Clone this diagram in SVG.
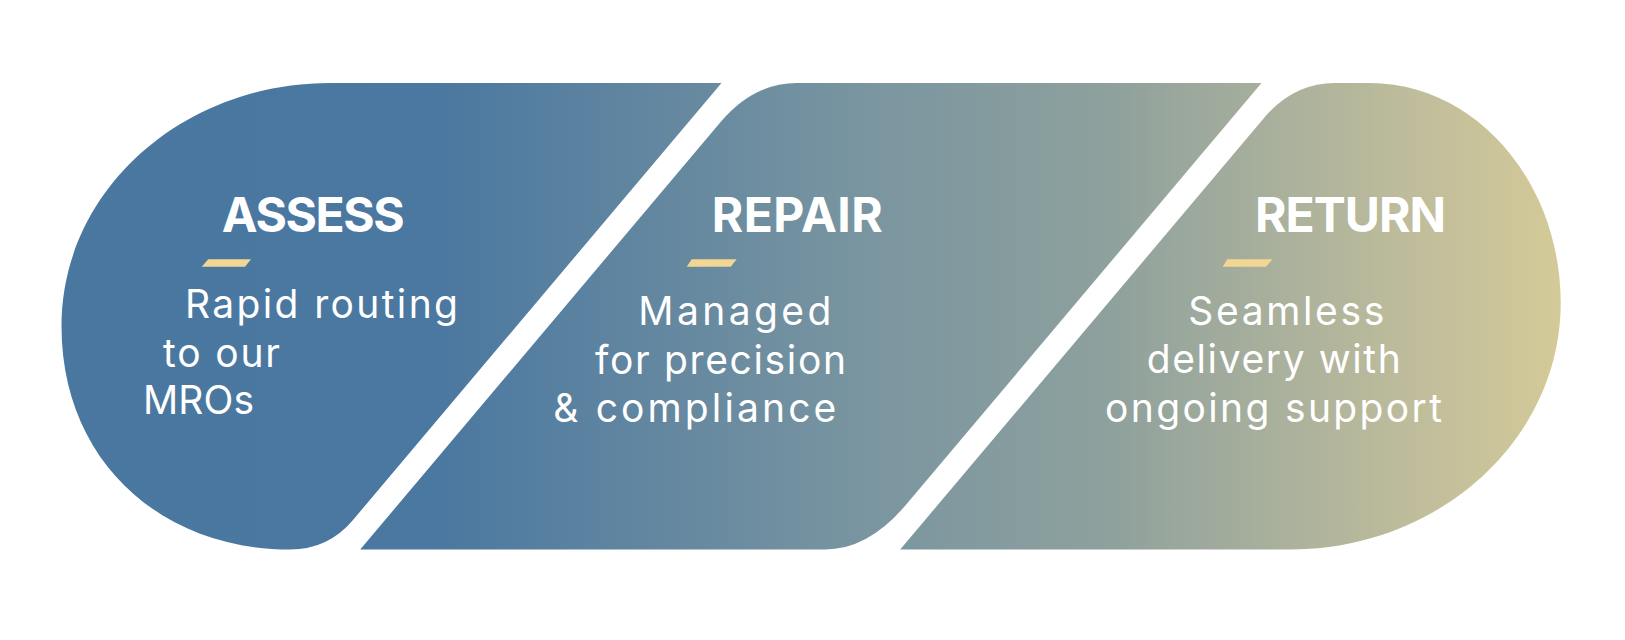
<svg xmlns="http://www.w3.org/2000/svg" width="1625" height="640" viewBox="0 0 1625 640">
  <defs>
    <linearGradient id="flow" gradientUnits="userSpaceOnUse" x1="0" y1="0" x2="1625" y2="0">
      <stop offset="0" stop-color="#4A77A0"/>
      <stop offset="0.27" stop-color="#4B78A0"/>
      <stop offset="0.5415" stop-color="#7B96A0"/>
      <stop offset="0.677" stop-color="#8DA09D"/>
      <stop offset="0.886" stop-color="#C3BF9B"/>
      <stop offset="0.96" stop-color="#D4CA98"/>
      <stop offset="1" stop-color="#D6CB97"/>
    </linearGradient>
  </defs>
  <style>
    .panel { fill: url(#flow); }
    .title { font-family: Inter, "Liberation Sans", sans-serif; font-weight: 700; font-size: 48px; fill: #FFFFFF; }
    .body { font-family: Inter, "Liberation Sans", sans-serif; font-weight: 400; font-size: 39px; fill: #FFFFFF; }
    .accent { fill: #F1D793; }
  </style>
  <rect width="1625" height="640" fill="#FFFFFF"/>

  <g id="assess">
    <path class="panel" d="M330,83 H721.5 L353,520 Q328.2,549.5 290,549.5 C160,549.5 61.5,460 61.5,326 C61.5,191 182,83 330,83 Z"/>
    <text class="title" x="221.7" y="231.7" textLength="183">ASSESS</text>
    <path class="accent" d="M201.7,266.7 L208.3,259.3 H251 L245,266.7 Z"/>
    <text class="body" x="185" y="318.3" textLength="273">Rapid routing</text>
    <text class="body" x="163" y="366.7" textLength="117">to our</text>
    <text class="body" x="143" y="414" textLength="111">MROs</text>
  </g>

  <g id="repair">
    <path class="panel" d="M360.2,549.5 L720.6,122 Q753.5,83 797,83 H1261.5 L905.8,505 Q868.2,549.5 825,549.5 Z"/>
    <text class="title" x="711.7" y="231.7" textLength="171">REPAIR</text>
    <path class="accent" d="M686.7,266.7 L691.7,259.3 H736.7 L730.7,266.7 Z"/>
    <text class="body" x="638.3" y="325" textLength="193">Managed</text>
    <text class="body" x="595" y="374.3" textLength="251">for precision</text>
    <text class="body" x="553.3" y="421.7" textLength="283">&amp; compliance</text>
  </g>

  <g id="return">
    <path class="panel" d="M900.2,549.5 L1264,118 Q1293.5,83 1335,83 H1370 C1475.3,83 1560.7,181.6 1560.7,303 C1560.7,439 1439.4,549.5 1290,549.5 Z"/>
    <text class="title" x="1255" y="231.7" textLength="191">RETURN</text>
    <path class="accent" d="M1222.7,266.7 L1227.3,259.3 H1272.3 L1266,266.7 Z"/>
    <text class="body" x="1188.3" y="325" textLength="196">Seamless</text>
    <text class="body" x="1146.7" y="373.3" textLength="254">delivery with</text>
    <text class="body" x="1105" y="421.7" textLength="337">ongoing support</text>
  </g>

  <g id="connectors"></g>
</svg>
